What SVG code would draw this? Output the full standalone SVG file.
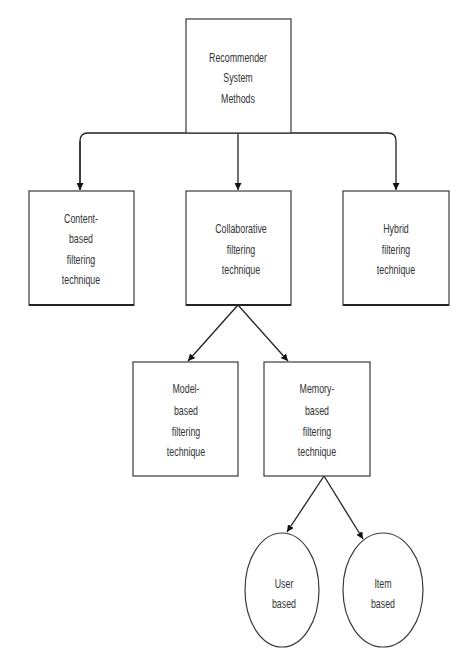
<svg xmlns="http://www.w3.org/2000/svg" width="474" height="660" viewBox="0 0 474 660">
<style>
.box{fill:#fff;stroke:#3a3a3a;stroke-width:1.2}
.bot{stroke:#222;stroke-width:2}
.lbl{font-family:"Liberation Sans",Arial,sans-serif;font-size:13px;fill:#333;text-anchor:middle}
.con{fill:none;stroke:#222;stroke-width:1.3}
</style>
<defs>
<marker id="ah" viewBox="0 0 10 10" refX="10" refY="5" markerWidth="7" markerHeight="7" orient="auto" markerUnits="userSpaceOnUse">
<path d="M0,0 L10,5 L0,10 z" fill="#111"/>
</marker>
</defs>
<rect width="474" height="660" fill="#fff"/>
<g id="connectors">
<path class="con" d="M80,190 V141 Q80,133 88,133 H388 Q396,133 396,141 V190" marker-end="url(#ah)"/>
<path class="con" d="M80,141 V190" marker-end="url(#ah)"/>
<path class="con" d="M238,133 V190" marker-end="url(#ah)"/>
<path class="con" d="M238,305 L188,361" marker-end="url(#ah)"/>
<path class="con" d="M238,305 L288,361" marker-end="url(#ah)"/>
<path class="con" d="M324,476 L287,532" marker-end="url(#ah)"/>
<path class="con" d="M324,476 L363,539" marker-end="url(#ah)"/>
</g>
<g id="root">
<rect class="box" x="186" y="19" width="105" height="114"/>
<text class="lbl" transform="translate(238,62) scale(0.68,1)">Recommender</text>
<text class="lbl" transform="translate(238,82) scale(0.68,1)">System</text>
<text class="lbl" transform="translate(238,103) scale(0.68,1)">Methods</text>
</g>
<g id="content">
<rect class="box" x="29" y="191" width="105" height="114"/>
<line class="bot" x1="29" y1="305" x2="134" y2="305"/>
<text class="lbl" transform="translate(81,223) scale(0.68,1)">Content-</text>
<text class="lbl" transform="translate(81,243) scale(0.68,1)">based</text>
<text class="lbl" transform="translate(81,264) scale(0.68,1)">filtering</text>
<text class="lbl" transform="translate(81,284) scale(0.68,1)">technique</text>
</g>
<g id="collab">
<rect class="box" x="186" y="191" width="105" height="114"/>
<line class="bot" x1="186" y1="305" x2="291" y2="305"/>
<text class="lbl" transform="translate(241,233) scale(0.68,1)">Collaborative</text>
<text class="lbl" transform="translate(241,254) scale(0.68,1)">filtering</text>
<text class="lbl" transform="translate(241,274) scale(0.68,1)">technique</text>
</g>
<g id="hybrid">
<rect class="box" x="343" y="191" width="106" height="114"/>
<line class="bot" x1="343" y1="305" x2="449" y2="305"/>
<text class="lbl" transform="translate(396,233) scale(0.68,1)">Hybrid</text>
<text class="lbl" transform="translate(396,254) scale(0.68,1)">filtering</text>
<text class="lbl" transform="translate(396,274) scale(0.68,1)">technique</text>
</g>
<g id="model">
<rect class="box" x="133" y="362" width="105" height="114"/>
<text class="lbl" transform="translate(186,393) scale(0.68,1)">Model-</text>
<text class="lbl" transform="translate(186,415) scale(0.68,1)">based</text>
<text class="lbl" transform="translate(186,436) scale(0.68,1)">filtering</text>
<text class="lbl" transform="translate(186,456) scale(0.68,1)">technique</text>
</g>
<g id="memory">
<rect class="box" x="264" y="362" width="106" height="114"/>
<text class="lbl" transform="translate(317,393) scale(0.68,1)">Memory-</text>
<text class="lbl" transform="translate(317,415) scale(0.68,1)">based</text>
<text class="lbl" transform="translate(317,436) scale(0.68,1)">filtering</text>
<text class="lbl" transform="translate(317,456) scale(0.68,1)">technique</text>
</g>
<g id="user">
<ellipse class="box" cx="282" cy="590" rx="37" ry="57"/>
<text class="lbl" transform="translate(284,588) scale(0.68,1)">User</text>
<text class="lbl" transform="translate(284,608) scale(0.68,1)">based</text>
</g>
<g id="item">
<ellipse class="box" cx="383" cy="590" rx="40" ry="57"/>
<text class="lbl" transform="translate(383,588) scale(0.68,1)">Item</text>
<text class="lbl" transform="translate(383,608) scale(0.68,1)">based</text>
</g>
</svg>
